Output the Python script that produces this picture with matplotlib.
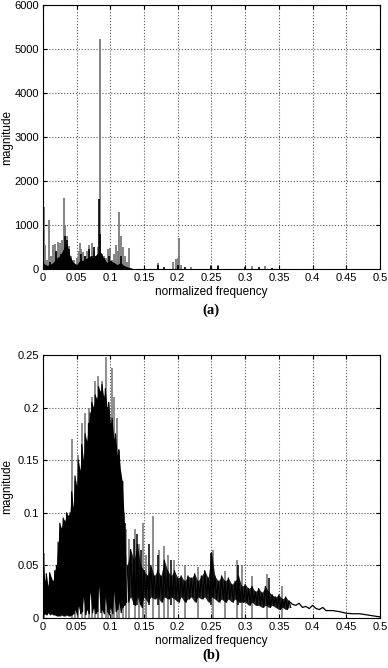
import matplotlib
matplotlib.use("Agg")
import matplotlib.pyplot as plt

plt.rcParams['font.family'] = ['Liberation Sans', 'DejaVu Sans']

# ---------------- Panel (a) data ----------------
a_gray_f = [0.001, 0.003, 0.006, 0.0095, 0.012, 0.015, 0.018, 0.021, 0.023, 0.025, 0.028,
            0.031, 0.033, 0.036, 0.039, 0.042, 0.046, 0.050, 0.053, 0.055, 0.057, 0.060,
            0.063, 0.066, 0.069, 0.072, 0.075, 0.078, 0.081, 0.0845, 0.088, 0.091, 0.094,
            0.097, 0.100, 0.103, 0.106, 0.108, 0.111, 0.1128, 0.115, 0.118, 0.121, 0.124,
            0.128, 0.170, 0.193, 0.197, 0.200, 0.2018, 0.205, 0.220, 0.250, 0.260, 0.310, 0.330]
a_gray_v = [1400, 550, 200, 1120, 300, 550, 560, 380, 620, 600, 650,
            1620, 1000, 750, 520, 300, 200, 250, 420, 600, 450, 380,
            300, 420, 550, 600, 400, 300, 500, 5220, 350, 300, 250,
            450, 470, 200, 350, 550, 400, 1300, 750, 500, 300, 150,
            480, 130, 150, 220, 250, 700, 100, 50, 80, 100, 60, 60]

a_black_env_f = [0.0, 0.005, 0.01, 0.015, 0.02, 0.025, 0.03, 0.035, 0.04, 0.045, 0.05,
                 0.055, 0.06, 0.065, 0.07, 0.075, 0.08, 0.085, 0.09, 0.095, 0.10, 0.105,
                 0.11, 0.115, 0.12, 0.125, 0.13, 0.135]
a_black_env_v = [150, 80, 100, 150, 250, 300, 450, 600, 300, 150, 100,
                 200, 200, 250, 300, 250, 350, 400, 250, 150, 200, 150,
                 100, 150, 80, 50, 30, 0]

a_black_f = [0.0005, 0.004, 0.010, 0.020, 0.027, 0.0325, 0.035, 0.038, 0.056, 0.062, 0.068,
             0.072, 0.075, 0.078, 0.0835, 0.085, 0.090, 0.098, 0.116, 0.170, 0.180, 0.200,
             0.210, 0.250, 0.260, 0.300, 0.320, 0.340]
a_black_v = [200, 100, 150, 400, 350, 750, 650, 450, 350, 300, 450,
             300, 500, 300, 1580, 800, 250, 300, 300, 100, 50, 80,
             40, 60, 70, 40, 40, 30]

# ---------------- Panel (b) data ----------------
# dense core (peaks every 0.0025, troughs midway)
b_core_f = [0.0000, 0.0025, 0.0050, 0.0075, 0.0100, 0.0125, 0.0150, 0.0175, 0.0200, 0.0225,
            0.0250, 0.0275, 0.0300, 0.0325, 0.0350, 0.0375, 0.0400, 0.0425, 0.0450, 0.0475,
            0.0500, 0.0525, 0.0550, 0.0575, 0.0600, 0.0625, 0.0650, 0.0675, 0.0700, 0.0725,
            0.0750, 0.0775, 0.0800, 0.0825, 0.0850, 0.0875, 0.0900, 0.0925, 0.0950, 0.0975,
            0.1000, 0.1025, 0.1050, 0.1075, 0.1100, 0.1125, 0.1150, 0.1175, 0.1200, 0.1225]
b_core_peak = [0.062, 0.035, 0.042, 0.030, 0.043, 0.038, 0.035, 0.045, 0.050, 0.072,
               0.090, 0.085, 0.095, 0.092, 0.100, 0.097, 0.100, 0.120, 0.105, 0.135,
               0.125, 0.150, 0.140, 0.165, 0.150, 0.175, 0.168, 0.185, 0.195, 0.205,
               0.200, 0.212, 0.208, 0.220, 0.215, 0.222, 0.210, 0.218, 0.200, 0.205,
               0.185, 0.190, 0.170, 0.175, 0.155, 0.160, 0.140, 0.130, 0.100, 0.060]
b_core_trough = [0.003, 0.004, 0.003, 0.005, 0.003, 0.004, 0.003, 0.003, 0.002, 0.002,
                 0.002, 0.003, 0.002, 0.002, 0.003, 0.002, 0.002, 0.003, 0.004, 0.008,
                 0.003, 0.012, 0.004, 0.006, 0.020, 0.003, 0.008, 0.004, 0.025, 0.005,
                 0.010, 0.004, 0.006, 0.030, 0.005, 0.008, 0.004, 0.020, 0.006, 0.003,
                 0.010, 0.004, 0.025, 0.006, 0.008, 0.015, 0.005, 0.010, 0.012, 0.015]

# noisy band after the core (peaks every 0.005, troughs midway)
b_band_f = [0.125, 0.130, 0.135, 0.140, 0.145,
            0.150, 0.155, 0.160, 0.165, 0.170, 0.175, 0.180, 0.185, 0.190, 0.195,
            0.200, 0.205, 0.210, 0.215, 0.220, 0.225, 0.230, 0.235, 0.240, 0.245,
            0.250, 0.255, 0.260, 0.265, 0.270, 0.275, 0.280, 0.285, 0.290, 0.295,
            0.300, 0.305, 0.310, 0.315, 0.320, 0.325, 0.330, 0.335, 0.340, 0.345,
            0.350, 0.355, 0.360, 0.365]
b_band_peak = [0.050, 0.065, 0.055, 0.070, 0.050,
               0.045, 0.040, 0.050, 0.040, 0.045, 0.040, 0.055, 0.045, 0.040, 0.045,
               0.038, 0.040, 0.035, 0.040, 0.038, 0.042, 0.035, 0.040, 0.045, 0.038,
               0.062, 0.040, 0.035, 0.040, 0.035, 0.038, 0.032, 0.035, 0.040, 0.030,
               0.032, 0.028, 0.030, 0.025, 0.028, 0.024, 0.030, 0.025, 0.022, 0.020,
               0.022, 0.018, 0.020, 0.016]
b_band_trough = [0.015, 0.020, 0.012, 0.020, 0.010,
                 0.020, 0.015, 0.020, 0.018, 0.020, 0.015, 0.020, 0.018, 0.020, 0.018,
                 0.015, 0.020, 0.015, 0.018, 0.020, 0.015, 0.020, 0.018, 0.020, 0.015,
                 0.020, 0.018, 0.015, 0.018, 0.015, 0.018, 0.015, 0.018, 0.015, 0.015,
                 0.015, 0.012, 0.015, 0.012, 0.012, 0.010, 0.012, 0.010, 0.012, 0.010,
                 0.008, 0.010, 0.008, 0.010]

b_gray_f = [0.002, 0.043, 0.047, 0.052, 0.058, 0.063, 0.068, 0.072, 0.077, 0.082,
            0.087, 0.093, 0.097, 0.102, 0.106, 0.110, 0.113, 0.118, 0.123, 0.128,
            0.137, 0.142, 0.148, 0.153, 0.163, 0.172, 0.180, 0.186, 0.195, 0.210,
            0.230, 0.252, 0.270, 0.288, 0.295, 0.310, 0.333, 0.355]
b_gray_v = [0.062, 0.170, 0.130, 0.155, 0.185, 0.195, 0.200, 0.210, 0.225, 0.230,
            0.225, 0.248, 0.200, 0.238, 0.210, 0.190, 0.160, 0.130, 0.085, 0.075,
            0.085, 0.070, 0.090, 0.060, 0.097, 0.065, 0.068, 0.060, 0.055, 0.050,
            0.048, 0.065, 0.045, 0.055, 0.050, 0.040, 0.042, 0.030]

b_black_f = [0.122, 0.135, 0.140, 0.145, 0.158, 0.170, 0.190, 0.250, 0.290, 0.335]
b_black_v = [0.090, 0.075, 0.080, 0.065, 0.070, 0.060, 0.055, 0.062, 0.050, 0.038]

b_tail_f = [0.365, 0.370, 0.375, 0.380, 0.385, 0.390, 0.395, 0.400, 0.405, 0.410, 0.415,
            0.420, 0.430, 0.440, 0.450, 0.460, 0.470, 0.480, 0.490, 0.500]
b_tail_v = [0.016, 0.013, 0.012, 0.014, 0.010, 0.011, 0.009, 0.012, 0.009, 0.008, 0.010,
            0.007, 0.007, 0.006, 0.0045, 0.004, 0.004, 0.003, 0.002, 0.001]

a_yticks = [0, 1000, 2000, 3000, 4000, 5000, 6000]
b_yticks = [0, 0.05, 0.1, 0.15, 0.2, 0.25]
b_yticklabels = ['0', '0.05', '0.1', '0.15', '0.2', '0.25']
xticks = [0, 0.05, 0.1, 0.15, 0.2, 0.25, 0.3, 0.35, 0.4, 0.45, 0.5]
xticklabels = ['0', '0.05', '0.1', '0.15', '0.2', '0.25', '0.3', '0.35', '0.4', '0.45', '0.5']

GRAY = '#7a7a7a'

fig = plt.figure(figsize=(3.88, 6.68), dpi=100)
ax1 = fig.add_axes([0.1108, 0.5973, 0.8686, 0.3952])
ax2 = fig.add_axes([0.1108, 0.0749, 0.8686, 0.3937])


def style(ax, yticks, ylabels):
    ax.set_xlim(0, 0.5)
    ax.set_xticks(xticks)
    ax.set_xticklabels(xticklabels)
    ax.set_yticks(yticks)
    ax.set_yticklabels(ylabels)
    ax.grid(True, linestyle=':', color='0.35', linewidth=0.8)
    ax.set_axisbelow(True)
    ax.tick_params(direction='in', length=3, labelsize=8, top=True, right=True, pad=3)
    ax.set_xlabel('normalized frequency', fontsize=8.5, labelpad=2)
    ax.set_ylabel('magnitude', fontsize=8.5)
    ax.yaxis.set_label_coords(-0.088, 0.5)
    for s in ax.spines.values():
        s.set_linewidth(0.8)


def zigzag(fs, peaks, troughs, half):
    xs, ys = [], []
    for f, p, t in zip(fs, peaks, troughs):
        xs += [f, f + half]
        ys += [p, t]
    return xs, ys


# Panel (a)
ax1.vlines(a_gray_f, 0, a_gray_v, color=GRAY, linewidth=1.3, zorder=2)
ax1.fill_between(a_black_env_f, 0, a_black_env_v, color='black', linewidth=0, zorder=3)
ax1.vlines(a_black_f, 0, a_black_v, color='black', linewidth=1.2, zorder=3)
ax1.set_ylim(0, 6000)
style(ax1, a_yticks, [str(v) for v in a_yticks])

# Panel (b)
ax2.vlines(b_gray_f, 0, b_gray_v, color=GRAY, linewidth=1.2, zorder=2)
ax2.fill_between(b_core_f, b_core_trough, b_core_peak, color='black', linewidth=0, zorder=3)
zx, zy = zigzag(b_core_f, b_core_peak, b_core_trough, 0.00125)
ax2.plot(zx, zy, color='black', linewidth=0.9, zorder=3)
ax2.fill_between(b_band_f, b_band_trough, b_band_peak, color='black', linewidth=0,
                 alpha=0.85, zorder=3)
zx, zy = zigzag(b_band_f, b_band_peak, b_band_trough, 0.0025)
ax2.plot(zx, zy, color='black', linewidth=0.9, zorder=3)
ax2.vlines(b_black_f, 0.012, b_black_v, color='black', linewidth=1.1, zorder=3)
ax2.plot(b_tail_f, b_tail_v, color='black', linewidth=0.9, zorder=3)
ax2.set_ylim(0, 0.25)
style(ax2, b_yticks, b_yticklabels)

fig.text(0.544, 0.536, '(a)', fontsize=10.5, fontweight='bold', family='Liberation Serif',
         ha='center', va='center')
fig.text(0.544, 0.019, '(b)', fontsize=10.5, fontweight='bold', family='Liberation Serif',
         ha='center', va='center')

fig.savefig('out.png', dpi=100)
